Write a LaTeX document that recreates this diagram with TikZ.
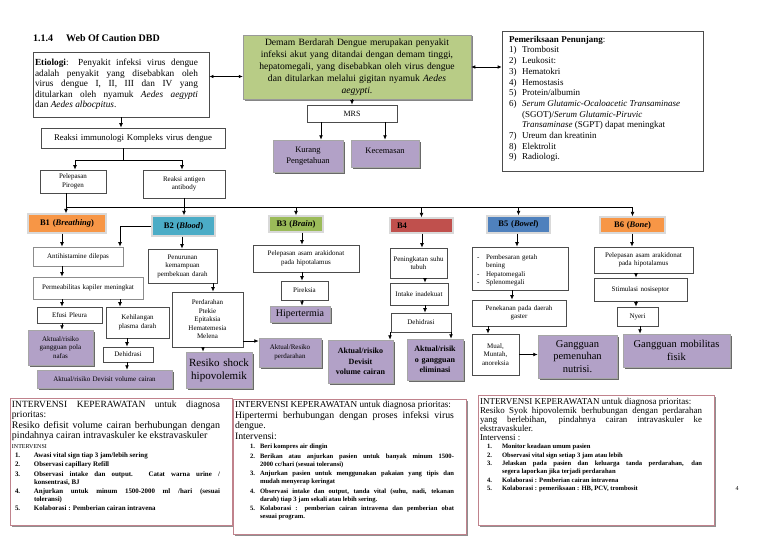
\documentclass[tikz,border=0pt]{standalone}
\usepackage{fontspec}
\setmainfont{Liberation Serif}
\usetikzlibrary{arrows.meta,shadows}
\definecolor{grn}{RGB}{184,204,134}
\definecolor{pur}{RGB}{178,161,199}
\definecolor{borange}{RGB}{247,150,70}
\definecolor{bblue}{RGB}{75,172,198}
\definecolor{bgreen}{RGB}{155,187,89}
\definecolor{bred}{RGB}{192,80,77}
\definecolor{bblueb}{RGB}{79,129,189}
\definecolor{intb}{RGB}{192,130,140}
\newcommand\fs[2]{\fontsize{#1}{#2}\selectfont}
\newcommand\jst{\leftskip=0pt\rightskip=0pt\parfillskip=0pt plus 1fil\relax}
\newlength\itmsep
\setlength\itmsep{0pt}
\newcommand\itm[4]{\par\vspace{\itmsep}\noindent\hangindent=#2\hangafter=1\hspace*{#1}\makebox[\dimexpr#2-#1\relax][l]{#3}#4}
\newcommand\bx[7][]{%
  \pgfmathsetmacro\bxw{#5-#3}%
  \pgfmathsetmacro\bxh{#6-#4}%
  \pgfmathsetmacro\bxtw{#5-#3-4}%
  \pgfmathsetmacro\bxcx{(#3+#5)/2}%
  \pgfmathsetmacro\bxcy{(#4+#6)/2}%
  \node[base,minimum width=\bxw pt,minimum height=\bxh pt,text width=\bxtw pt,#1] (#2) at (\bxcx,\bxcy) {#7};}
\newcommand\va[3]{\path (#3,0) coordinate (vx); \draw[arr] (#1.south -| vx) -- (#2.north -| vx);}
\tikzset{
  base/.style={rectangle,inner xsep=2pt,inner ysep=1pt,align=center,font=\fs{7}{8.5}},
  wbox/.style={draw=black!70,line width=0.6pt,fill=white},
  sbox/.style={wbox,drop shadow={shadow xshift=1pt,shadow yshift=-1pt,fill=black!60,opacity=0.9}},
  pbox/.style={draw=black!35,fill=pur,line width=0.5pt,drop shadow={shadow xshift=1.8pt,shadow yshift=-1.8pt,fill=black!65,opacity=0.9}},
  bbox/.style={draw=white!85!black,line width=1.2pt,font=\bfseries\fs{8.5}{10},drop shadow={shadow xshift=1.2pt,shadow yshift=-1.2pt,fill=black!40,opacity=0.8}},
  ibox/.style={draw=intb,line width=0.9pt,fill=white,align=justify,drop shadow={shadow xshift=2pt,shadow yshift=-2pt,fill=black!55,opacity=0.8}},
  arr/.style={-{Latex[length=4.5pt,width=3.8pt]},line width=0.8pt},
  darr/.style={{Latex[length=4pt,width=3.5pt]}-{Latex[length=4pt,width=3.5pt]},line width=0.6pt},
  ln/.style={line width=0.8pt},
}
\begin{document}
\begin{tikzpicture}[x=1pt,y=-1pt]
\useasboundingbox (0,0) rectangle (768,543);
\node[anchor=west,font=\bfseries\fs{10}{12},inner sep=0] (title) at (33,38) {1.1.4\hspace{1.3em}Web Of Caution DBD};

% top row
\bx[wbox,line width=0.9pt,align=justify]{etio}{33}{52}{209}{117}{\parbox{163pt}{\fs{9.3}{10.6}\jst\textbf{Etiologi}: Penyakit infeksi virus dengue\linebreak adalah penyakit yang disebabkan oleh\linebreak virus dengue I, II, III dan IV yang\linebreak ditularkan oleh nyamuk \textit{Aedes aegypti}\linebreak dan \textit{Aedes albocpitus}.}}
\bx[fill=grn,draw=black!40,line width=0.5pt,font=\fs{9.6}{12},drop shadow={shadow xshift=1.5pt,shadow yshift=-1.5pt,fill=black!60,opacity=0.8}]{green}{243}{35}{471}{99}{Demam Berdarah Dengue merupakan penyakit\\infeksi akut yang ditandai dengan demam tinggi,\\hepatomegali, yang disebabkan oleh virus dengue\\dan ditularkan melalui gigitan nyamuk \textit{Aedes}\\\textit{aegypti}.}
\bx[wbox,font=\fs{8}{9}]{mrs}{307}{105}{397}{122}{MRS}
\bx[pbox,font=\fs{8.5}{11}]{kurang}{273}{140}{343}{172}{Kurang\\Pengetahuan}
\bx[pbox,font=\fs{8.5}{11}]{kec}{351}{140}{419}{167}{\raisebox{5pt}{Kecemasan}}
\bx[wbox,drop shadow={shadow xshift=1pt,shadow yshift=-1pt,fill=black!50,opacity=0.8}]{pem}{502}{31}{703}{171}{\parbox[c][134pt][t]{187pt}{\fs{9}{10.7}\raggedright
\vspace*{2pt}\textbf{Pemeriksaan Penunjang}:
\itm{0pt}{13pt}{1)}{Trombosit}
\itm{0pt}{13pt}{2)}{Leukosit:}
\itm{0pt}{13pt}{3)}{Hematokri}
\itm{0pt}{13pt}{4)}{Hemostasis}
\itm{0pt}{13pt}{5)}{Protein/albumin}
\itm{0pt}{13pt}{6)}{\textit{Serum Glutamic-Ocaloacetic Transaminase}\newline (SGOT)/\textit{Serum Glutamic-Piruvic}\newline \textit{Transaminase} (SGPT) dapat meningkat}
\itm{0pt}{13pt}{7)}{Ureum dan kreatinin}
\itm{0pt}{13pt}{8)}{Elektrolit}
\itm{0pt}{13pt}{9)}{Radiologi.}}}

\bx[wbox,font=\fs{8.8}{10}]{reaksi}{41}{128}{225}{148}{Reaksi immunologi Kompleks virus dengue}
\bx[wbox]{pel}{40}{170}{106}{193}{Pelepasan\\Pirogen}
\bx[wbox]{antigen}{143}{170}{225}{198}{Reaksi antigen\\antibody}

% B boxes
\bx[bbox,fill=borange]{b1}{28}{214}{106}{233}{B1 (\textit{Breathing})}
\bx[bbox,fill=bblue]{b2}{152}{216}{215}{236}{B2 (\textit{Blood})}
\bx[bbox,fill=bgreen]{b3}{269}{216}{323}{232}{B3 (\textit{Brain})}
\bx[bbox,fill=bred,align=left]{b4}{390}{218}{453}{233}{\hspace*{5pt}B4}
\bx[bbox,fill=bblueb]{b5}{487}{216}{550}{233}{B5 (\textit{Bowel})}
\bx[bbox,fill=borange]{b6}{600}{217}{665}{233}{B6 (\textit{Bone})}

% B1 column
\bx[wbox,draw=black!45]{anti}{33}{247}{123}{266}{Antihistamine dilepas}
\bx[wbox,draw=black!45]{perm}{33}{277}{143}{299}{Permeabilitas kapiler meningkat}
\bx[sbox]{efusi}{37}{307}{102}{323}{Efusi Pleura}
\bx[wbox]{kehil}{106}{307}{169}{338}{Kehilangan\\plasma darah}
\bx[pbox]{nafas}{28}{330}{93}{365}{Aktual/risiko\\gangguan pola\\nafas}
\bx[sbox]{dehidA}{103}{347}{153}{362}{Dehidrasi}
\bx[pbox]{devA}{37}{370}{172}{388}{Aktual/risiko Devisit volume cairan}

% B2 column
\bx[wbox]{penur}{148}{249}{217}{283}{Penurunan\\kemampuan\\pembekuan darah}
\bx[wbox]{perd}{172}{292}{243}{347}{Perdarahan\\Ptekie\\Epitaksia\\Hematemesia\\Melena}
\bx[pbox]{aktper}{259}{338}{321}{367}{Aktual/Resiko\\perdarahan}
\bx[pbox,font=\fs{11}{13}]{shock}{186}{352}{252}{388}{Resiko shock\\hipovolemik}

% B3 column
\bx[wbox]{asam1}{253}{245}{359}{272}{Pelepasan asam arakidonat\\pada hipotalamus}
\bx[wbox]{pirek}{281}{281}{328}{300}{Pireksia}
\bx[pbox,font=\fs{10}{12}]{hiper}{270}{306}{330}{322}{Hipertermia}

% B4 column
\bx[wbox]{suhu}{390}{248}{447}{278}{Peningkatan suhu\\tubuh}
\bx[wbox]{intake}{390}{283}{448}{305}{Intake inadekuat}
\bx[wbox]{dehidB}{391}{313}{451}{332}{Dehidrasi}
\bx[pbox,font=\bfseries\fs{8}{10.5}]{devB}{328}{340}{393}{383}{Aktual/risiko\\Devisit\\volume cairan}
\bx[pbox,font=\bfseries\fs{8}{10.5}]{elim}{407}{339}{463}{380}{Aktual/risik\\o gangguan\\eliminasi}

% B5 column
\bx[wbox,align=left]{list5}{472}{247}{568}{290}{\itm{3pt}{12pt}{-}{Pembesaran getah\newline bening}\itm{3pt}{12pt}{-}{Hepatomegali}\itm{3pt}{12pt}{-}{Splenomegali}}
\bx[wbox]{gaster}{472}{300}{566}{326}{Penekanan pada daerah\\gaster}
\bx[wbox]{mual}{472}{334}{519}{375}{Mual,\\Muntah,\\anoreksia}
\bx[pbox,font=\fs{10.5}{12.5}]{nutr}{538}{335}{617}{378}{Gangguan\\pemenuhan\\nutrisi.}

% B6 column
\bx[wbox]{asam2}{594}{247}{693}{273}{Pelepasan asam arakidonat\\pada hipotalamus}
\bx[wbox]{stim}{594}{278}{687}{301}{Stimulasi nosiseptor}
\bx[sbox]{nyeri}{617}{307}{658}{326}{Nyeri}
\bx[pbox,font=\fs{10.5}{12.5}]{mobil}{623}{334}{730}{367}{Gangguan mobilitas\\fisik}

% intervention boxes
\bx[ibox]{int1}{10}{398}{232}{525}{\parbox[c][121pt][t]{208pt}{\jst
{\fs{9.5}{10.3}\jst INTERVENSI KEPERAWATAN untuk diagnosa\linebreak prioritas:\par}
{\fs{10}{10.3}\jst Resiko defisit volume cairan berhubungan dengan\linebreak pindahnya cairan intravaskuler ke ekstravaskuler\par}
{\fs{6}{10}INTERVENSI\par}
{\bfseries\fs{6.9}{8}\setlength\itmsep{1.2pt}\jst
\itm{3pt}{22pt}{1.}{Awasi vital sign tiap 3 jam/lebih sering}
\itm{3pt}{22pt}{2.}{Observasi capillary Refill}
\itm{3pt}{22pt}{3.}{Observasi intake dan output. Catat warna urine /\linebreak konsentrasi, BJ}
\itm{3pt}{22pt}{4.}{Anjurkan untuk minum 1500-2000 ml /hari (sesuai\linebreak toleransi)}
\itm{3pt}{22pt}{5.}{Kolaborasi : Pemberian cairan intravena}\par}}}
\bx[ibox]{int2}{233}{399}{466}{534}{\parbox[c][130pt][t]{219pt}{\jst
{\fs{9.2}{10.5}\jst INTERVENSI KEPERAWATAN untuk diagnosa prioritas:\par}
{\fs{9.8}{10.5}\jst Hipertermi berhubungan dengan proses infeksi virus\linebreak dengue.\par Intervensi:\par}
{\bfseries\fs{6.6}{8}\setlength\itmsep{1.5pt}\jst
\itm{15pt}{25pt}{1.}{Beri kompres air dingin}
\itm{15pt}{25pt}{2.}{Berikan atau anjurkan pasien untuk banyak minum 1500-\linebreak 2000 cc/hari (sesuai toleransi)}
\itm{15pt}{25pt}{3.}{Anjurkan pasien untuk menggunakan pakaian yang tipis dan\linebreak mudah menyerap keringat}
\itm{15pt}{25pt}{4.}{Observasi intake dan output, tanda vital (suhu, nadi, tekanan\linebreak darah) tiap 3 jam sekali atau lebih sering.}
\itm{15pt}{25pt}{5.}{Kolaborasi : pemberian cairan intravena dan pemberian obat\linebreak sesuai program.}\par}}}
\bx[ibox]{int3}{478}{395}{714}{525}{\parbox[c][124pt][t]{222pt}{\jst
{\fs{9}{9.5}\jst INTERVENSI KEPERAWATAN untuk diagnosa prioritas:\par}
{\fs{8.9}{9}\jst Resiko Syok hipovolemik berhubungan dengan perdarahan\linebreak yang berlebihan, pindahnya cairan intravaskuler ke\linebreak ekstravaskuler.\par Intervensi :\par}
{\bfseries\fs{6.6}{8}\setlength\itmsep{0.5pt}\jst
\itm{7pt}{22pt}{1.}{Monitor keadaan umum pasien}
\itm{7pt}{22pt}{2.}{Observasi vital sign setiap 3 jam atau lebih}
\itm{7pt}{22pt}{3.}{Jelaskan pada pasien dan keluarga tanda perdarahan, dan\linebreak segera laporkan jika terjadi perdarahan}
\itm{7pt}{22pt}{4.}{Kolaborasi : Pemberian cairan intravena}
\itm{7pt}{22pt}{5.}{Kolaborasi : pemeriksaan : HB, PCV, trombosit}\par}}}
\node[font=\fs{6}{7},inner sep=0] (pg) at (737,489) {4};

% connectors
\draw[darr] ([yshift=8pt]etio.east) -- ([yshift=8pt]etio.east -| green.west);
\draw[darr] (green.east) -- (green.east -| pem.west);
\draw[arr] (mrs.north |- green.south) -- (mrs.north);
\draw[arr] ([xshift=-31pt]mrs.south) -- ([xshift=-31pt]mrs.south |- kurang.north);
\draw[arr] (mrs.south -| kec.north) -- (kec.north);
\draw[arr] (etio.south) -- (etio.south |- reaksi.north);
\draw[ln] ([xshift=-10pt]reaksi.south) -- ++(0,12) coordinate (spl);
\draw[arr] (spl) -| ([xshift=2pt]pel.north);
\draw[arr] (spl) -| ([xshift=-2pt]antigen.north);
\draw[ln] ([xshift=-7pt]pel.south) -- ++(0,14) coordinate (bus) -- (bus -| b6.north);
\draw[arr] (bus) -- (bus |- b1.north);
\draw[arr] (antigen.south) -- (antigen.south |- b2.north);
\draw[arr] (bus -| b3.north) -- (b3.north);
\draw[arr] (bus -| b4.north) -- (b4.north);
\draw[arr] (bus -| b5.north) -- (b5.north);
\draw[arr] (bus -| b6.north) -- (b6.north);

\va{b1}{anti}{62}
\path (120,0) coordinate (vxa);
\draw[arr] (b2.west) -| (anti.north -| vxa);
\va{anti}{perm}{62}
\va{perm}{efusi}{62}
\va{perm}{kehil}{120}
\va{efusi}{nafas}{62}
\va{kehil}{dehidA}{127}
\va{dehidA}{devA}{127}

\va{b2}{penur}{182}
\va{penur}{perd}{213}
\path (0,341) coordinate (hy);
\draw[arr] (perd.east |- hy) -- (aktper.west |- hy);
\va{perd}{shock}{203}

\va{b3}{asam1}{302}
\va{asam1}{pirek}{302}
\va{pirek}{hiper}{302}

\va{b4}{suhu}{422}
\va{suhu}{intake}{425}
\va{intake}{dehidB}{425}
\va{dehidB}{devB}{390}
\va{dehidB}{elim}{451}

\va{b5}{list5}{517}
\va{list5}{gaster}{512}
\va{gaster}{mual}{488}
\draw[arr] (mual.east) -- (mual.east -| nutr.west);

\va{b6}{asam2}{632}
\va{asam2}{stim}{636}
\va{stim}{nyeri}{636}
\va{nyeri}{mobil}{640}
\end{tikzpicture}
\end{document}
